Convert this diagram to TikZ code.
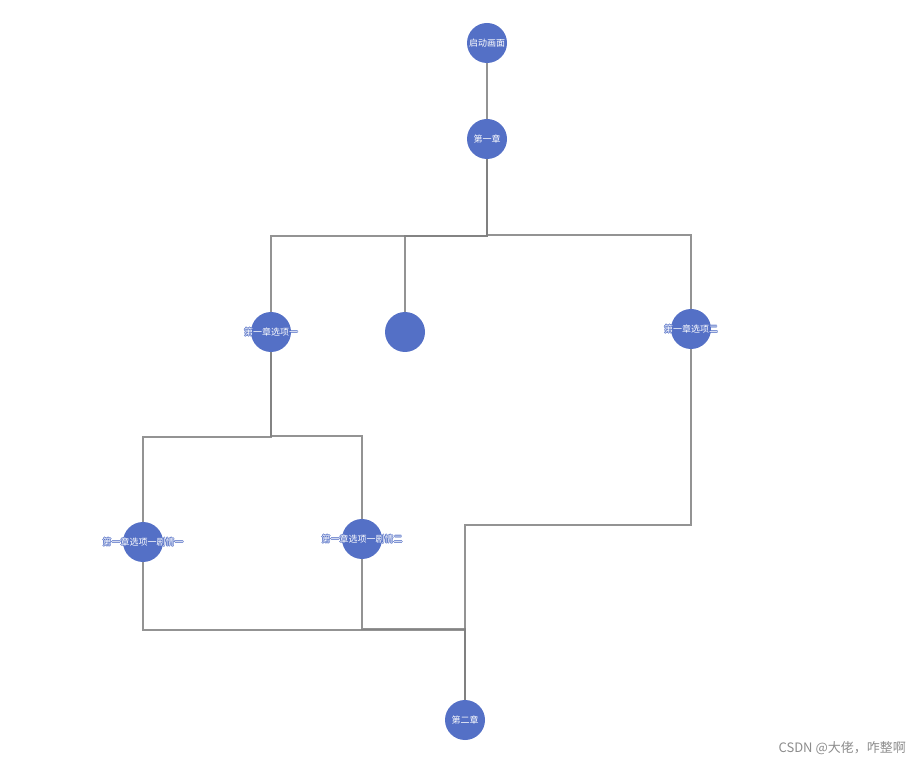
\documentclass[tikz,border=0pt]{standalone}
\usepackage{fontspec}
\newfontfamily\cjk{Noto Sans CJK SC}
\definecolor{nb}{HTML}{5470C6}
\newcommand{\olab}[1]{\tikz[baseline]{\foreach \dx/\dy in {-0.6/0,0.6/0,0/-0.6,0/0.6,-0.45/-0.45,0.45/0.45,-0.45/0.45,0.45/-0.45}{\node[inner sep=0,text=nb,anchor=base] at (\dx pt,\dy pt) {#1};}\node[inner sep=0,text=white,anchor=base] at (0,0) {#1};}}
\begin{document}
\begin{tikzpicture}[x=1pt,y=-1pt,
  nd/.style={circle,fill=nb,minimum size=40pt,inner sep=0},
  lab/.style={font=\cjk\fontsize{9}{10}\selectfont,inner sep=0},
  ln/.style={draw=black!50,line width=1.5pt,opacity=0.85}]
\useasboundingbox (0,0) rectangle (922,767);
\node[nd] (s) at (487,43) {};
\node[nd] (c1) at (487,139) {};
\node[nd] (o1) at (271,332) {};
\node[nd] (b) at (405,332) {};
\node[nd] (o2) at (691,329) {};
\node[nd] (p1) at (143,542) {};
\node[nd] (p2) at (362,539) {};
\node[nd] (c2) at (465,720) {};
\draw[ln] (s) -- (c1);
\draw[ln] (c1.south) |- (271,236) -- (o1.north);
\draw[ln] (c1.south) |- (405,236) -- (b.north);
\draw[ln] (c1.south) |- (691,235) -- (o2.north);
\draw[ln] (o1.south) |- (143,437) -- (p1.north);
\draw[ln] (o1.south) |- (362,436) -- (p2.north);
\draw[ln] (p1.south) |- (465,630) -- (c2.north);
\draw[ln] (p2.south) |- (465,629) -- (c2.north);
\draw[ln] (o2.south) |- (465,525) -- (c2.north);
\foreach \n/\t in {s/启动画面,c1/第一章,o1/第一章选项一,o2/第一章选项二,p1/第一章选项一剧情一,p2/第一章选项一剧情二,c2/第二章}
  \node[lab] at (\n) {\olab{\t}};
\node[font=\cjk\fontsize{13}{14}\selectfont,text=black!45,anchor=east,inner sep=0] (w) at (906,748) {CSDN @大佬，咋整啊};
\end{tikzpicture}
\end{document}
